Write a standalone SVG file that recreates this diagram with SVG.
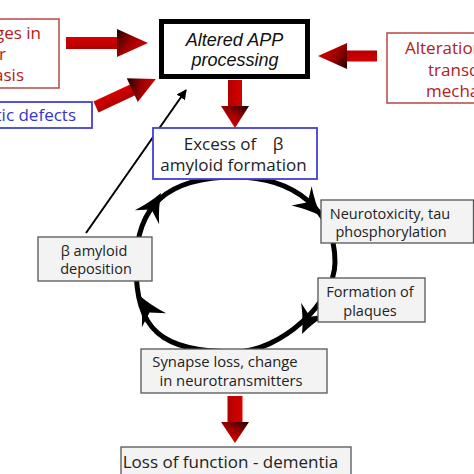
<svg xmlns="http://www.w3.org/2000/svg" width="474" height="474" viewBox="0 0 474 474">
<style>
.box{fill:#f3f3f3;stroke:#555;stroke-width:1.3}
.red{fill:#fff;stroke:#b84545;stroke-width:1.5}
.blue{fill:#fff;stroke:#4040d8;stroke-width:1.8}
.t{font-family:"Open Sans","Noto Sans",sans-serif;fill:#222;text-anchor:middle}
.s15{font-size:14.8px}
.s14{font-size:14.5px}
.s17{font-size:17px}
.rt{font-family:"Open Sans","Noto Sans",sans-serif;font-size:17px;fill:#b32020}
.bt{font-family:"Open Sans","Noto Sans",sans-serif;font-size:17px;fill:#3535cc}
.app{font-family:"Liberation Sans",Arial,sans-serif;font-style:italic;font-size:18px;fill:#111;text-anchor:middle}
.shaft{fill:url(#sg)}
.head{fill:url(#hg)}
.ring{fill:none;stroke:#000;stroke-width:5}
.rh{fill:#000}
</style>
<defs>
<linearGradient id="hg" x1="0" y1="0" x2="1" y2="0.7">
<stop offset="0" stop-color="#1e0000"/>
<stop offset="0.5" stop-color="#a00000"/>
<stop offset="1" stop-color="#d80000"/>
</linearGradient>
<linearGradient id="sg" x1="0" y1="0" x2="0" y2="1">
<stop offset="0" stop-color="#d80000"/>
<stop offset="1" stop-color="#b00000"/>
</linearGradient>
<marker id="ah" viewBox="0 0 10 10" refX="9" refY="5" markerWidth="5" markerHeight="5" orient="auto" markerUnits="strokeWidth">
<path d="M0,0 L10,5 L0,10 Z" fill="#000"/>
</marker>
<path id="rhead" d="M0,0 Q-14,-5 -28,-14 L-19,0 L-28,14 Q-14,5 0,0 Z"/>
</defs>

<g id="connectors">
<path class="ring" d="M235,177 C295,177 335,211 335,262 C335,302.5 280,352 235,352 C160.75,352 136,330.25 136,265 C136,205.2 167.7,177 235,177 Z"/>
<use href="#rhead" class="rh" transform="translate(161,193) rotate(-60)"/>
<use href="#rhead" class="rh" transform="translate(140,296) rotate(-120)"/>
<use href="#rhead" class="rh" transform="translate(321,216) rotate(46)"/>
<use href="#rhead" class="rh" transform="translate(302,334) rotate(115)"/>
<line x1="86" y1="233" x2="186" y2="90" stroke="#000" stroke-width="2" marker-end="url(#ah)"/>
<g transform="translate(66,43)"><rect class="shaft" x="0" y="-6" width="52" height="12"/><path class="head" d="M51,-14 L82,0 L51,14 Z"/></g>
<g transform="translate(96,107) rotate(-25)"><rect class="shaft" x="0" y="-6" width="41" height="12"/><path class="head" d="M40,-13 L66,0 L40,13 Z"/></g>
<g transform="translate(377,56) rotate(180)"><rect class="shaft" x="0" y="-5.5" width="31" height="11"/><path class="head" d="M30,-13 L59,0 L30,13 Z"/></g>
<g transform="translate(235,80) rotate(90)"><rect class="shaft" x="0" y="-7" width="27" height="14"/><path class="head" d="M26,-14 L48,0 L26,14 Z"/></g>
<g transform="translate(235,396) rotate(90)"><rect class="shaft" x="0" y="-7.5" width="27" height="15"/><path class="head" d="M26,-14 L47,0 L26,14 Z"/></g>
</g>

<g id="app">
<rect x="161.5" y="21.5" width="146" height="55" fill="#fff" stroke="#000" stroke-width="5"/>
<text class="app" x="234.5" y="46">Altered APP</text>
<text class="app" x="235" y="66">processing</text>
</g>

<g id="homeostasis">
<rect class="red" x="-10" y="19" width="69" height="69"/>
<text class="rt" x="41" y="39" text-anchor="end">ges in</text>
<text class="rt" x="6" y="60" text-anchor="end">r</text>
<text class="rt" x="24" y="81" text-anchor="end">asis</text>
</g>

<g id="genetic">
<rect class="blue" x="-10" y="102" width="102" height="26"/>
<text class="bt" x="76" y="121" text-anchor="end">tic defects</text>
</g>

<g id="transduction">
<rect class="red" x="387" y="33" width="100" height="70"/>
<text class="rt" x="405" y="54">Alteration</text>
<text class="rt" x="428" y="76">transd</text>
<text class="rt" x="426" y="97">mecha</text>
</g>

<g id="excess">
<rect class="blue" x="153" y="128" width="164" height="51" fill="#f8f8fa"/>
<text class="t s17" y="150"><tspan x="220">Excess of</tspan><tspan x="278">β</tspan></text>
<text class="t s17" x="233.5" y="171">amyloid formation</text>
</g>

<g id="neurotoxicity">
<rect class="box" x="321" y="200" width="152.5" height="43"/>
<text class="t s14" x="390" y="219">Neurotoxicity, tau</text>
<text class="t s14" x="391" y="237">phosphorylation</text>
</g>

<g id="plaques">
<rect class="box" x="318" y="278" width="107" height="44"/>
<text class="t s14" x="370" y="297">Formation of</text>
<text class="t s14" x="370" y="316">plaques</text>
</g>

<g id="deposition">
<rect class="box" x="38" y="237" width="114" height="44"/>
<text class="t s14" x="94" y="256">β amyloid</text>
<text class="t s14" x="96" y="274">deposition</text>
</g>

<g id="synapse">
<rect class="box" x="141" y="349" width="186" height="44"/>
<text class="t s15" x="225" y="367">Synapse loss, change</text>
<text class="t s15" x="231" y="386">in neurotransmitters</text>
</g>

<g id="dementia">
<rect class="box" x="121" y="447" width="230" height="40"/>
<text class="t s17" x="230.5" y="468">Loss of function - dementia</text>
</g>
</svg>
